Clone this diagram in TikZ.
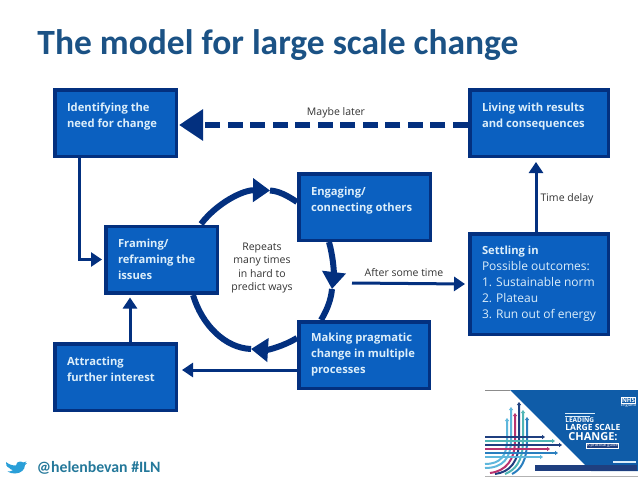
\documentclass[tikz,border=0pt]{standalone}
\usepackage{fontspec}
\setmainfont{Open Sans}
\newfontfamily\titlefont{Carlito}
\usepackage{xcolor}
\usetikzlibrary{arrows.meta}

\definecolor{nhsblue}{HTML}{0B60C0}
\definecolor{nhsdark}{HTML}{03307F}
\definecolor{boxtext}{HTML}{DCEEFA}
\definecolor{titleblue}{HTML}{1B5285}
\definecolor{handleteal}{HTML}{24789A}
\definecolor{birdblue}{HTML}{2A9FD8}
\definecolor{coverblue}{HTML}{0F5CA8}
\definecolor{covernavy}{HTML}{1F3F7F}
\definecolor{coverteal}{HTML}{4FB5B5}
\definecolor{coverrose}{HTML}{B8336F}
\definecolor{covermid}{HTML}{2A7FBF}
\definecolor{coversky}{HTML}{5FB7DC}

\tikzset{
  stage/.style={draw=nhsdark,fill=nhsblue,line width=3.5pt,text=boxtext,text width=#1,
    inner xsep=12.25pt,inner ysep=0pt,minimum height=66.5pt,align=flush left,
    font=\fontsize{11.2}{16}\selectfont\bfseries},
  remark/.style={text=black!80,inner sep=0pt,align=center,font=\fontsize{10.5}{13.5}\selectfont},
  thinlink/.style={draw=nhsdark,line width=3pt,-{Triangle[length=11pt,width=14pt]}},
  looplink/.style={draw=nhsdark,line width=6pt},
  looptip/.style={looplink,-{Triangle[length=17pt,width=23pt]}},
  maybelink/.style={draw=nhsdark,line width=6pt,dash pattern=on 15pt off 7.55pt,
    -{Triangle[length=24pt,width=30pt]}},
  strand/.style={line width=2pt,-{Triangle[length=3pt,width=4pt]}},
  covertext/.style={text=white,inner sep=0pt,font=\bfseries}
}

\begin{document}
\begin{tikzpicture}[x=1pt,y=-1pt,auto,thick]
\useasboundingbox (0,0) rectangle (638,479);

\node at(278,45.5)[name=heading,text=titleblue,inner sep=0pt,font=\titlefont\fontsize{35.5}{40}\selectfont\bfseries]{The model for large scale change};

\draw
    node at(115.5,123)[stage=97,name=identify]{Identifying the\\need for change\\~}
    node at(539,123)[stage=114,name=living]{Living with results\\and consequences\\~}

    node at(364.5,207)[stage=107,name=engaging]{Engaging/\\connecting others\\~}
    node at(161.5,259.5)[stage=87,name=framing]{Framing/\\reframing the\\issues}
    node at(364,355)[stage=106,name=making]{Making pragmatic\\change in multiple\\processes}

    node at(539,284)[stage=114,minimum height=100.5pt,name=settling]{Settling in\\\fontsize{12}{16}\selectfont\mdseries Possible outcomes:\\1. Sustainable norm\\2. Plateau\\3. Run out of energy}
    node at(115.5,377)[stage=97,name=attracting]{Attracting\\further interest\\~}

    node at(336,113)[remark,name=maybe]{Maybe later}
    node at(567,199)[remark,name=delay]{Time delay}
    node at(404,273)[remark,name=aftertime]{After some time}
    node at(262,268)[remark,name=repeats]{Repeats\\many times\\in hard to\\predict ways}
;

\coordinate (afterstart) at (352,283);
\coordinate (loopa) at (201,224);
\coordinate (loopb) at (270,190.5);
\coordinate (loopc) at (297,202);
\coordinate (loopd) at (329,242);
\coordinate (loope) at (332,289);
\coordinate (loopf) at (321,320);
\coordinate (loopg) at (297,338);
\coordinate (looph) at (251,349);
\coordinate (loopi) at (193,295);

\draw[maybelink]([yshift=-2]living.west) -- ([xshift=1,yshift=-2]identify.east);
\draw[thinlink]([xshift=-36.5]identify.south) |- ([xshift=-2]framing.west);
\draw[thinlink]([xshift=14.5]attracting.north) -- ([xshift=-31.5,yshift=-3]framing.south);
\draw[thinlink]([yshift=-15]making.west) -- ([xshift=4,yshift=7]attracting.east);
\draw[thinlink](afterstart) -- ([xshift=-3]settling.west);
\draw[thinlink]([xshift=-3]settling.north) -- ([xshift=-3,yshift=-4]living.south);

\draw[looptip](loopa) .. controls (217,203) and (243,190) .. (loopb);
\draw[looplink](loopb) .. controls (279,191) and (288,196) .. (loopc);
\draw[looptip](loopd) .. controls (333,256) and (334,272) .. (loope);
\draw[looplink](loope) .. controls (331,300) and (327,310) .. (loopf);
\draw[looptip](loopg) .. controls (284,346) and (268,350) .. (looph);
\draw[looplink](looph) .. controls (225,348) and (202,325) .. (loopi);

% twitter bird
\fill[birdblue] (6,462) .. controls (9,464.5) and (12,465.5) .. (16,465.5) .. controls (16,463) and (18,461.5) .. (20,461.5) .. controls (21.5,461.5) and (22.5,462) .. (23,462.5) -- (26.5,461.5) -- (24.8,463.5) -- (27,463) -- (25,465) .. controls (25,469.5) and (21,473.5) .. (15,473.5) .. controls (12,473.5) and (9.5,472.8) .. (7.5,471.5) .. controls (10,471.7) and (12,471) .. (13,470) .. controls (11,470) and (10,469) .. (9.5,468) .. controls (8,467.8) and (7,466.5) .. (6.5,465.5) .. controls (5.8,464.5) and (5.8,463) .. (6,462) -- cycle;
\node at(36.5,468)[anchor=west,name=handle,text=handleteal,inner sep=0pt,font=\titlefont\fontsize{15.8}{18}\selectfont\bfseries]{@helenbevan \#ILN};

% book cover
\fill[coverblue] (510,390) -- (638,390) -- (638,471) -- (591,471) -- cycle;
\fill[black!45] (485,389.5) rectangle (510,390.5);
\fill[black!30] (485,475.5) rectangle (638,477);
\fill[covernavy] (535,465) rectangle (637,471);
\fill[boxtext] (613,461) rectangle (636,463);
\fill[boxtext] (565,413) rectangle (595,414);
\fill[boxtext] (565,415.5) rectangle (590,416.5);

\draw[strand,coversky] (485,464) .. controls (500,464) and (507,456) .. (507,440) -- (507,418);
\draw[strand,covernavy] (495,474) .. controls (510,472) and (519,462) .. (519,440) -- (519,402);
\draw[strand,coversky] (485,468) .. controls (503,468) and (511,458) .. (511,440) -- (511,407);
\draw[strand,coverrose] (490,473) .. controls (506,471) and (515,460) .. (515,440) -- (515,413);
\draw[strand,coverteal] (505,474) .. controls (515,470) and (523,462) .. (523,440) -- (523,410);
\draw[strand,covermid] (512,474) .. controls (520,470) and (527,462) .. (527,440) -- (527,417);

\draw[strand,covernavy] (485,437) -- (545,437);
\draw[strand,coverteal] (485,441) -- (555,441);
\draw[strand,covernavy] (485,445) -- (562,445);
\draw[strand,coverrose] (485,449) -- (550,449);
\draw[strand,covermid] (485,453) -- (558,453);
\draw[strand,coversky] (485,457) -- (543,457);

\node at(565,420)[covertext,anchor=west,name=coverleading,font=\fontsize{6.5}{8}\selectfont\bfseries]{LEADING};
\node at(565,427.5)[covertext,anchor=west,name=coverlarge,font=\fontsize{8.5}{9}\selectfont\bfseries]{LARGE SCALE};
\node at(568,437)[covertext,anchor=west,name=coverchange,font=\fontsize{11}{12}\selectfont\bfseries]{CHANGE:};
\node at(602.5,445.5)[covertext,draw=white,fill=covernavy,line width=.4pt,inner sep=.6pt,name=coverguide,font=\fontsize{4}{5}\selectfont]{A practical guide};
\node at(628.5,400)[covertext,draw=white,line width=.5pt,inner sep=.8pt,name=coverlogo,font=\fontsize{6}{6}\selectfont\bfseries]{NHS};
\node at(628.5,405.5)[covertext,name=coverengland,font=\fontsize{4}{5}\selectfont]{England};
\end{tikzpicture}
\end{document}
